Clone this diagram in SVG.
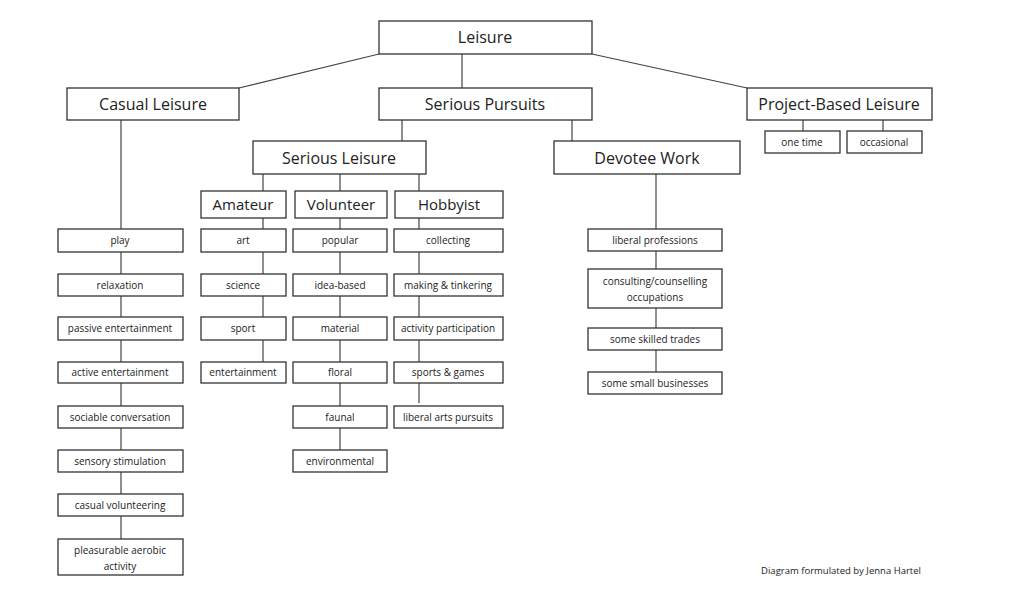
<svg xmlns="http://www.w3.org/2000/svg" width="1024" height="611" viewBox="0 0 1024 611">
<style>
rect{fill:#fff;stroke:#333;stroke-width:1.3}
text{font-family:"Open Sans","Liberation Sans",sans-serif;fill:#222;text-anchor:middle}
.h{font-size:16px}
.m{font-size:15px}
.s{font-size:10px}
#connectors line{stroke:#444;stroke-width:1.2}
</style>
<rect x="0" y="0" width="1024" height="611" style="fill:#fff;stroke:none"/>
<g id="connectors">
<line x1="379" y1="54" x2="239" y2="88"/>
<line x1="592" y1="54" x2="747" y2="88"/>
<line x1="462" y1="54" x2="462" y2="88"/>
<line x1="121" y1="120" x2="121" y2="539"/>
<line x1="402" y1="120" x2="402" y2="141"/>
<line x1="572" y1="120" x2="572" y2="141"/>
<line x1="263" y1="174" x2="263" y2="362"/>
<line x1="340" y1="174" x2="340" y2="450"/>
<line x1="419" y1="174" x2="419" y2="403"/>
<line x1="656" y1="174" x2="656" y2="372"/>
<line x1="803" y1="120" x2="803" y2="131"/>
<line x1="883" y1="120" x2="883" y2="131"/>
</g>
<g id="leisure"><rect x="379" y="21" width="213" height="33"/><text class="h" x="485" y="43">Leisure</text></g>
<g id="casual"><rect x="67" y="88" width="172" height="32"/><text class="h" x="153" y="110">Casual Leisure</text></g>
<g id="pursuits"><rect x="379" y="88" width="213" height="32"/><text class="h" x="485" y="110">Serious Pursuits</text></g>
<g id="project"><rect x="747" y="88" width="185" height="32"/><text class="h" x="839" y="110">Project-Based Leisure</text></g>
<g id="onetime"><rect x="765" y="131" width="75" height="22"/><text class="s" x="802" y="146">one time</text></g>
<g id="occasional"><rect x="847" y="131" width="75" height="22"/><text class="s" x="884" y="146">occasional</text></g>
<g id="seriousleisure"><rect x="253" y="141" width="173" height="33"/><text class="h" x="339" y="164">Serious Leisure</text></g>
<g id="devotee"><rect x="554" y="141" width="186" height="33"/><text class="h" x="647" y="164">Devotee Work</text></g>
<g id="amateur"><rect x="201" y="191" width="85" height="27"/><text class="m" x="243" y="210">Amateur</text></g>
<g id="volunteer"><rect x="295" y="191" width="92" height="27"/><text class="m" x="341" y="210">Volunteer</text></g>
<g id="hobbyist"><rect x="395" y="191" width="108" height="27"/><text class="m" x="449" y="210">Hobbyist</text></g>
<g id="play"><rect x="58" y="229" width="125" height="23"/><text class="s" x="120" y="244">play</text></g>
<g id="relaxation"><rect x="58" y="274" width="125" height="22"/><text class="s" x="120" y="289">relaxation</text></g>
<g id="passive"><rect x="58" y="317" width="125" height="23"/><text class="s" x="120" y="332">passive entertainment</text></g>
<g id="active"><rect x="58" y="362" width="125" height="21"/><text class="s" x="120" y="376">active entertainment</text></g>
<g id="sociable"><rect x="58" y="406" width="125" height="22"/><text class="s" x="120" y="421">sociable conversation</text></g>
<g id="sensory"><rect x="58" y="450" width="125" height="22"/><text class="s" x="120" y="465">sensory stimulation</text></g>
<g id="casualvol"><rect x="58" y="494" width="125" height="22"/><text class="s" x="120" y="509">casual volunteering</text></g>
<g id="aerobic"><rect x="58" y="539" width="125" height="36"/><text class="s" x="120" y="554">pleasurable aerobic</text><text class="s" x="120" y="570">activity</text></g>
<g id="art"><rect x="201" y="229" width="85" height="23"/><text class="s" x="243" y="244">art</text></g>
<g id="science"><rect x="201" y="274" width="85" height="22"/><text class="s" x="243" y="289">science</text></g>
<g id="sport"><rect x="201" y="317" width="85" height="23"/><text class="s" x="243" y="332">sport</text></g>
<g id="entertainment"><rect x="201" y="362" width="85" height="21"/><text class="s" x="243" y="376">entertainment</text></g>
<g id="popular"><rect x="293" y="229" width="94" height="23"/><text class="s" x="340" y="244">popular</text></g>
<g id="ideabased"><rect x="293" y="274" width="94" height="22"/><text class="s" x="340" y="289">idea-based</text></g>
<g id="material"><rect x="293" y="317" width="94" height="23"/><text class="s" x="340" y="332">material</text></g>
<g id="floral"><rect x="293" y="362" width="94" height="21"/><text class="s" x="340" y="376">floral</text></g>
<g id="faunal"><rect x="293" y="406" width="94" height="22"/><text class="s" x="340" y="421">faunal</text></g>
<g id="environmental"><rect x="293" y="450" width="94" height="22"/><text class="s" x="340" y="465">environmental</text></g>
<g id="collecting"><rect x="394" y="229" width="109" height="23"/><text class="s" x="448" y="244">collecting</text></g>
<g id="making"><rect x="394" y="274" width="109" height="22"/><text class="s" x="448" y="289">making &amp; tinkering</text></g>
<g id="activity"><rect x="394" y="317" width="109" height="23"/><text class="s" x="448" y="332">activity participation</text></g>
<g id="sportsgames"><rect x="394" y="362" width="109" height="21"/><text class="s" x="448" y="376">sports &amp; games</text></g>
<g id="liberalarts"><rect x="394" y="406" width="109" height="22"/><text class="s" x="448" y="421">liberal arts pursuits</text></g>
<g id="liberalprof"><rect x="588" y="229" width="134" height="22"/><text class="s" x="655" y="244">liberal professions</text></g>
<g id="consulting"><rect x="588" y="269" width="134" height="39"/><text class="s" x="655" y="285">consulting/counselling</text><text class="s" x="655" y="301">occupations</text></g>
<g id="skilled"><rect x="588" y="328" width="134" height="22"/><text class="s" x="655" y="343">some skilled trades</text></g>
<g id="smallbiz"><rect x="588" y="372" width="134" height="22"/><text class="s" x="655" y="387">some small businesses</text></g>
<text x="841" y="574" style="font-size:9.5px">Diagram formulated by Jenna Hartel</text>
</svg>
